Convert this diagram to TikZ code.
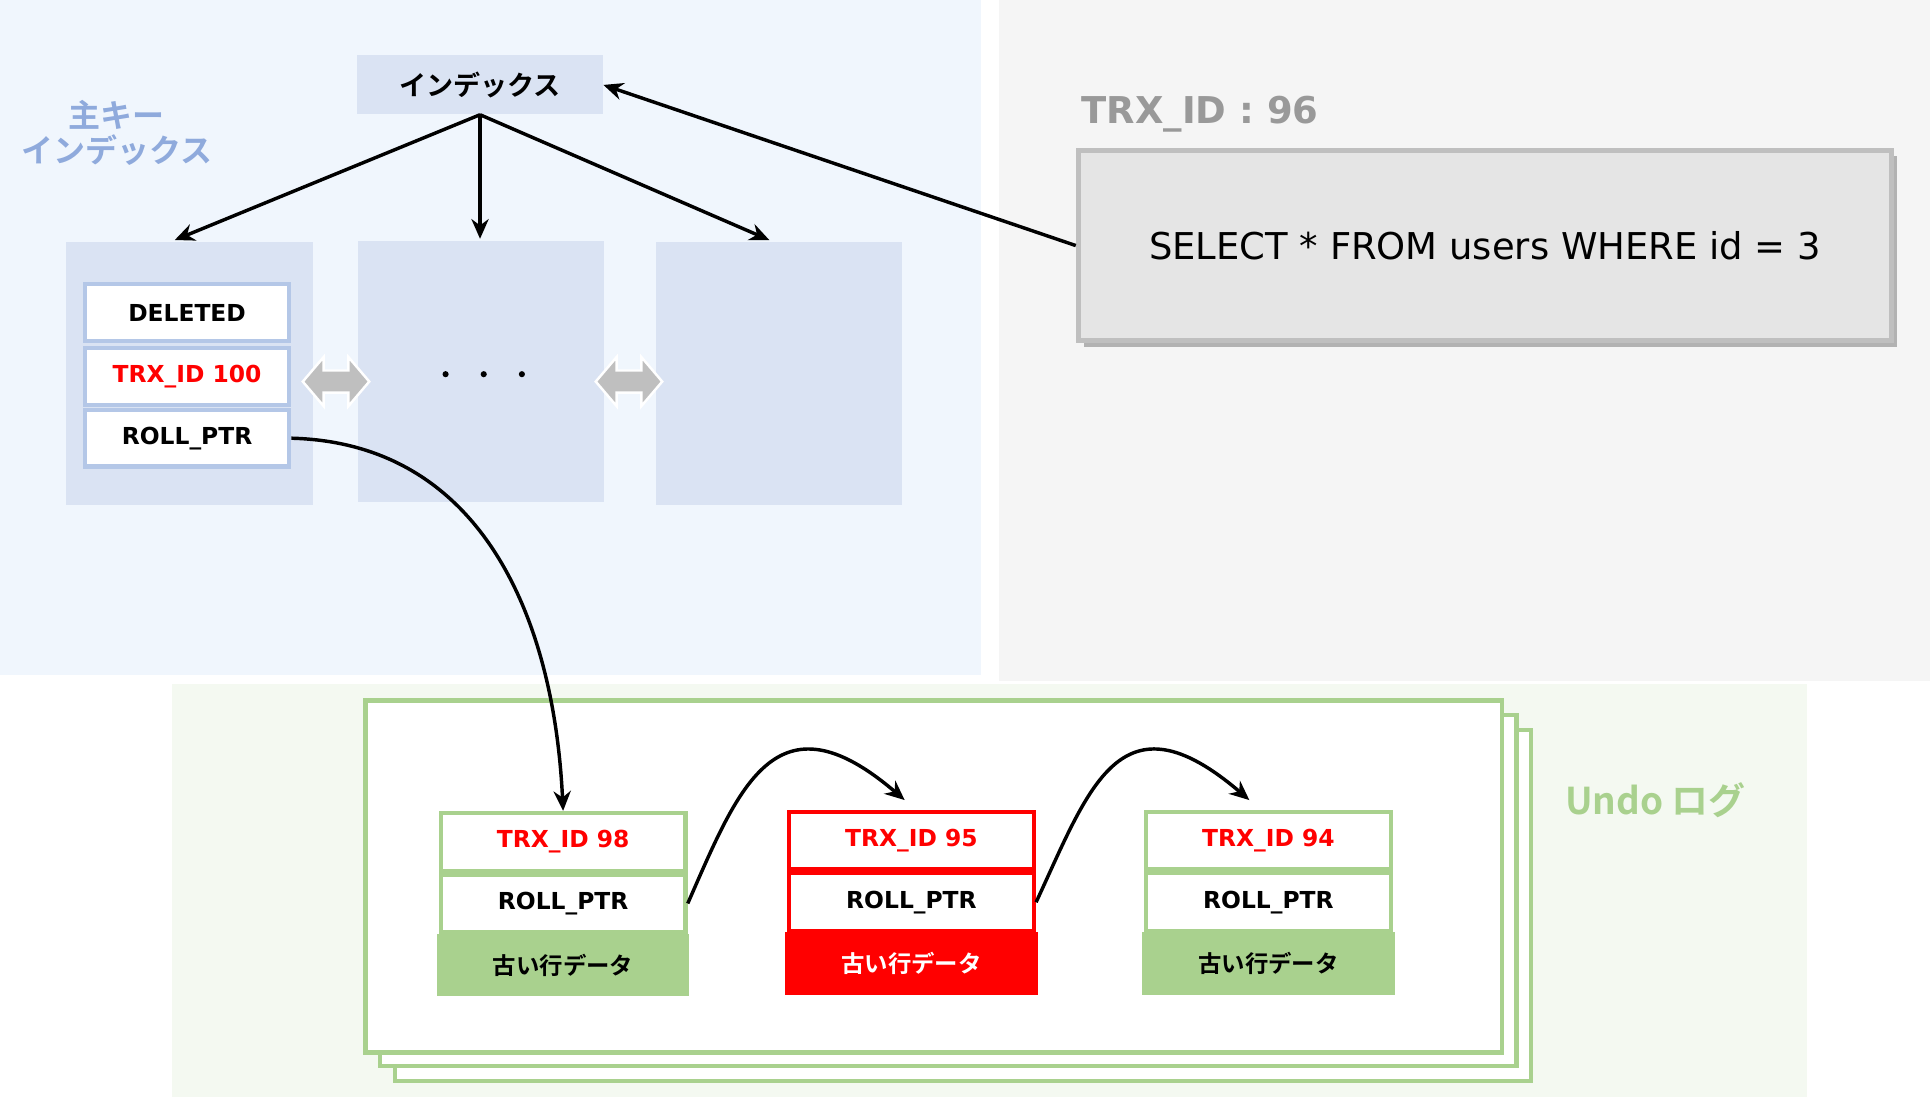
\documentclass[tikz,border=0pt]{standalone}
\usepackage{fontspec}
\setmainfont{DejaVu Sans}
\newfontfamily\jp{Noto Sans CJK JP}[BoldFont={* Bold}]
\usetikzlibrary{arrows.meta,calc}
\definecolor{bluebg}{RGB}{240,246,253}
\definecolor{graybg}{RGB}{245,245,245}
\definecolor{greenbg}{RGB}{244,249,241}
\definecolor{pagec}{RGB}{218,227,243}
\definecolor{bluebd}{RGB}{180,199,231}
\definecolor{titleblue}{RGB}{143,170,220}
\definecolor{greenbd}{RGB}{169,209,142}
\definecolor{undogreen}{RGB}{169,209,142}
\definecolor{myred}{RGB}{255,0,0}
\begin{document}
\begin{tikzpicture}[x=1pt,y=-1pt,
  arr/.style={line width=2.8pt,-{Stealth[length=16pt,width=14pt]}},
  page/.style={fill=pagec,draw=none},
  cell/.style={draw=bluebd,line width=3.5pt,fill=white,minimum width=166pt,minimum height=46pt,font=\bfseries\fontsize{19}{22}\selectfont,inner sep=0},
  gcell/.style={draw=greenbd,line width=3.5pt,fill=white,minimum width=199pt,minimum height=47pt,font=\bfseries\fontsize{19}{22}\selectfont,inner sep=0},
  gfill/.style={fill=undogreen,minimum width=205pt,minimum height=51pt,font=\jp\bfseries\fontsize{19}{22}\selectfont,inner sep=0},
  undo/.style={draw=greenbd,line width=3.5pt,fill=white},
  dot/.style={circle,fill=black,inner sep=0,minimum size=5pt},
  darr/.style={fill=black!25,draw=white,line width=2pt}]
\useasboundingbox (0,0) rectangle (1568,891);
% backgrounds
\fill[bluebg] (0,0) rectangle (797,548);
\fill[graybg] (812,0) rectangle (1568,553);
\fill[greenbg] (140,556) rectangle (1468,891);
% title
\node[font=\jp\bfseries\fontsize{26}{32}\selectfont,text=titleblue,align=center] (title) at (95,108) {主キー\\[-4pt]インデックス};
% index
\node[fill=pagec,minimum width=200pt,minimum height=48pt,font=\jp\bfseries\fontsize{22}{24}\selectfont] (idx) at (390,69) {インデックス};
\fill[page] (54,197) rectangle (254,410);
\fill[page] (291,196) rectangle (491,408);
\fill[page] (533,197) rectangle (733,410);
\coordinate (p1) at (142,195);
\coordinate (p2) at (390,194);
\coordinate (p3) at (625,195);
\draw[arr] (idx.south) -- (p1);
\draw[arr] (idx.south) -- (p2);
\draw[arr] (idx.south) -- (p3);
\node[cell] (del) at (152,254) {DELETED};
\node[cell,text=myred] (t100) at (152,306) {TRX\_ID 100};
\node[cell] (rp0) at (152,356) {ROLL\_PTR};
\node[dot] (d1) at (362,304) {};
\node[dot] (d2) at (393,304) {};
\node[dot] (d3) at (424,304) {};
\foreach \cx in {273,511}{
  \draw[darr] (\cx-27,310)--(\cx-10,290)--(\cx-10,301)--(\cx+10,301)--(\cx+10,290)--(\cx+27,310)--(\cx+10,330)--(\cx+10,319)--(\cx-10,319)--(\cx-10,330)--cycle;
}
% SQL
\node[text=black!40,font=\bfseries\fontsize{30}{34}\selectfont] (trx96) at (975,93) {TRX\_ID : 96};
\fill[black!30] (881,127) rectangle (1541,282);
\node[draw=black!25,line width=4pt,fill=black!10,minimum width=661pt,minimum height=155pt,font=\fontsize{30}{34}\selectfont] (sql) at (1206.5,199.5) {SELECT * FROM users WHERE id = 3};
\draw[arr] (sql.west) -- (idx.east);
% undo log
\draw[undo] (321,593) rectangle (1244,878);
\draw[undo] (309,581) rectangle (1232,866);
\draw[undo] (297,569) rectangle (1220,855);
\node[text=undogreen,font=\jp\bfseries\fontsize{30}{34}\selectfont] (undol) at (1345,650) {Undo ログ};
% records
\node[gcell,text=myred] (a1) at (457.5,684) {TRX\_ID 98};
\node[gcell] (a2) at (457.5,734) {ROLL\_PTR};
\node[gfill] (a3) at (457.5,784) {古い行データ};
\node[gcell,draw=myred,text=myred] (b1) at (740.5,683) {TRX\_ID 95};
\node[gcell,draw=myred] (b2) at (740.5,733) {ROLL\_PTR};
\node[gfill,fill=myred,text=white] (b3) at (740.5,783) {古い行データ};
\node[gcell,text=myred] (c1) at (1030.5,683) {TRX\_ID 94};
\node[gcell] (c2) at (1030.5,733) {ROLL\_PTR};
\node[gfill] (c3) at (1030.5,783) {古い行データ};
% curves
\draw[arr] (rp0.east) .. controls (390,360) and (450,500) .. (a1.north);
\draw[arr] (a2.east) .. controls (600,640) and (630,560) .. (735,650);
\draw[arr] (b2.east) .. controls (885,640) and (910,560) .. (1015,650);
\end{tikzpicture}
\end{document}
